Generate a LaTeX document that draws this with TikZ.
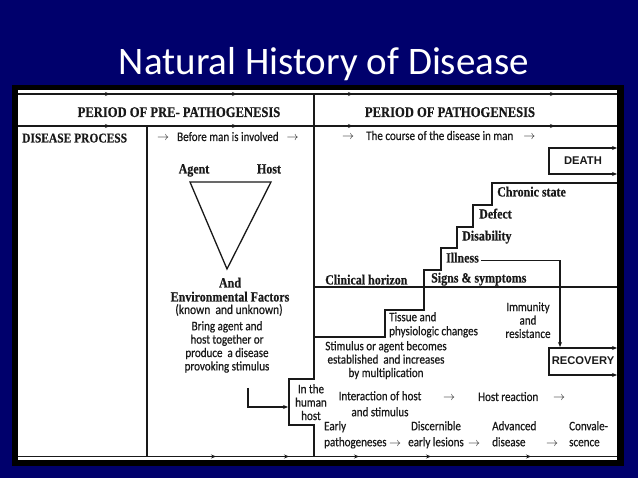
\documentclass[tikz,border=0pt]{standalone}
\usepackage{fontspec}
\setmainfont{Liberation Serif}
\newfontfamily\carl{Carlito}
\newfontfamily\carln[FakeStretch=0.85,FakeBold=0.5]{Carlito}
\newfontfamily\lsans{Liberation Sans}
\newfontfamily\lserifn[FakeStretch=0.85,FakeBold=0.4]{Liberation Serif}
\usetikzlibrary{arrows.meta}
\definecolor{navy}{RGB}{0,0,108}
\definecolor{ink}{RGB}{25,25,25}
\begin{document}
\begin{tikzpicture}[x=1pt,y=-1pt,
  ln/.style={draw=ink,line width=1.3pt},
  tipa/.style={-{Stealth[length=5pt,width=4pt]},draw=ink,line width=1.3pt},
  bl/.style={font=\lserifn\bfseries\fontsize{14.1}{16}\selectfont,text=ink,inner sep=0pt},
  hd/.style={font=\lserifn\bfseries\fontsize{14.8}{16}\selectfont,text=ink,inner sep=0pt},
  tx/.style={font=\carln\fontsize{13}{13.4}\selectfont,text=ink,inner sep=0pt},
  txb/.style={font=\carln\fontsize{13}{16}\selectfont,text=ink,inner sep=0pt},
  bx/.style={font=\lsans\bfseries\fontsize{11.2}{13}\selectfont,text=ink,inner sep=0pt},
]
\useasboundingbox (0,0) rectangle (638,478);
\fill[navy] (0,0) rectangle (638,478);
\node[font=\carl\fontsize{39}{47}\selectfont,text=white,anchor=base,inner sep=0pt] (title) at (324,75) {Natural History of Disease};
% panel
\fill[black] (12,85) rectangle (624,466);
\fill[white] (18,90) rectangle (617,460);
% timeline lines
\coordinate (tl) at (18,94);   \coordinate (tr) at (617,94);
\coordinate (hl) at (18,126);  \coordinate (hr) at (617,126);
\coordinate (bl) at (18,456.5);  \coordinate (br) at (617,456.5);
\draw[ln] (tl) -- (tr);
\draw[ln] (hl) -- (hr);
\draw[ln] (bl) -- (br);
\foreach \x in {110,237,353,555} {
  \draw[tipa] (\x-4,94) -- (\x,94);
  \draw[tipa] (\x-4,126) -- (\x,126);
}
\foreach \x in {216,289,359,431,531} {
  \draw[tipa] (\x-4,456.5) -- (\x,456.5);
}
% column lines
\coordinate (v1t) at (147,126); \coordinate (v1b) at (147,456.5);
\draw[ln] (v1t) -- (v1b);
\coordinate (mt) at (314,94);
\coordinate (mb) at (314,456.5);
\draw[ln,line join=miter] (mt) -- (314,379) -- (289,379) -- (289,425) -- (314,425) -- (mb);
% clinical horizon
\coordinate (chl) at (314,287); \coordinate (chr) at (617,287);
\draw[ln] (chl) -- (chr);
% staircase
\coordinate (s0) at (314,337);
\coordinate (s9) at (617,183);
\draw[ln,line join=miter] (s0) -- (385,337) -- (385,310) -- (424,310) -- (424,270) -- (441,270) -- (441,248)
  -- (457,248) -- (457,227) -- (473,227) -- (473,205) -- (492,205) -- (492,183) -- (s9);
% death and recovery boxes
\draw[ln,line join=miter,{Stealth[length=5pt,width=4pt]}-{Stealth[length=5pt,width=4pt]}] (617,148) -- (549,148) -- (549,174) -- (617,174);
\draw[ln,line join=miter,{Stealth[length=5pt,width=4pt]}-{Stealth[length=5pt,width=4pt]}] (617,348) -- (549,348) -- (549,375) -- (617,375);
% triangle
\coordinate (ta) at (190,182); \coordinate (tb) at (271,182); \coordinate (tc) at (227,269);
\draw[ln,line join=miter] (ta) -- (tb) -- (tc) -- cycle;
% headers and labels
\node[hd,anchor=base] (pre) at (179,117) {PERIOD OF PRE- PATHOGENESIS};
\node[hd,anchor=base] (pat) at (450,117) {PERIOD OF PATHOGENESIS};
\node[bl,anchor=base west,font=\lserifn\bfseries\fontsize{13.5}{15}\selectfont] (dp) at (22,142.5) {DISEASE PROCESS};
\node[tx,anchor=base west] (bmi) at (157,141) {$\rightarrow$\hspace{8pt}Before man is involved\hspace{8pt}$\rightarrow$};
\node[tx,anchor=base west] (cdm) at (342,140) {$\rightarrow$\hspace{12pt}The course of the disease in man\hspace{10pt}$\rightarrow$};
\node[bl,anchor=base] (ag) at (194,173.5) {Agent};
\node[bl,anchor=base] (ho) at (269,173.5) {Host};
\node[bl,anchor=base] (and) at (230,287.5) {And};
\node[bl,anchor=base] (env) at (230,301.5) {Environmental Factors};
\node[tx,anchor=base,font=\carln\fontsize{13.5}{14}\selectfont] (kn) at (229,314) {(known\ \ and unknown)};
\node[tx,anchor=north,align=center] (bring) at (227,321) {Bring agent and\\host together or\\produce\ \ a disease\\provoking stimulus};
\node[tx,anchor=north,align=center] (human) at (311,384) {In the\\human\\host};
\draw[ln,-{Stealth[length=5pt,width=4pt]}] (248,388) -- (248,407) -- (288,407);
\node[bl,anchor=base west] (clin) at (325,284.5) {Clinical horizon};
\node[bl,anchor=base west] (sig) at (431,282.5) {Signs \& symptoms};
\node[bl,anchor=base west] (ill) at (446,262.5) {Illness};
\node[bl,anchor=base west] (dis) at (462,240.5) {Disability};
\node[bl,anchor=base west] (def) at (479,218.5) {Defect};
\node[bl,anchor=base west] (chs) at (497,196.5) {Chronic state};
\node[bx] (death) at (583,161) {DEATH};
\node[bx] (rec) at (583,361) {RECOVERY};
\coordinate (ilt) at (560,260.5);
\draw[ln,-{Stealth[length=5pt,width=4pt]}] ([xshift=2pt,yshift=2pt]ill.base east) -- (ilt) -- (560,347);
\node[tx,anchor=north,align=center] (imm) at (528,302) {Immunity\\and\\resistance};
\node[tx,anchor=north west,align=left,font=\carln\fontsize{13}{14}\selectfont] (tis) at (389,312) {Tissue and\\physiologic changes};
\node[tx,anchor=north,align=center] (stim) at (386,341) {Stimulus or agent becomes\\established\ \ and increases\\by multiplication};
\node[txb,anchor=north,align=center] (inter) at (380,391) {Interaction of host\\and stimulus};
\node[tx,anchor=base west] (a1) at (443,401) {$\rightarrow$};
\node[tx,anchor=base west] (hre) at (478,401) {Host reaction};
\node[tx,anchor=base west] (a2) at (553,401) {$\rightarrow$};
\node[txb,anchor=north west,align=left] (early) at (324,421) {Early\\pathogeneses};
\node[tx,anchor=base west] (a3) at (389,447) {$\rightarrow$};
\node[txb,anchor=north,align=center] (disc) at (436,421) {Discernible\\early lesions};
\node[tx,anchor=base west] (a4) at (468,447) {$\rightarrow$};
\node[txb,anchor=north west,align=left] (adv) at (492,421) {Advanced\\disease};
\node[tx,anchor=base west] (a5) at (546,447) {$\rightarrow$};
\node[txb,anchor=north west,align=left] (conv) at (569,421) {Convale-\\scence};
\end{tikzpicture}
\end{document}
